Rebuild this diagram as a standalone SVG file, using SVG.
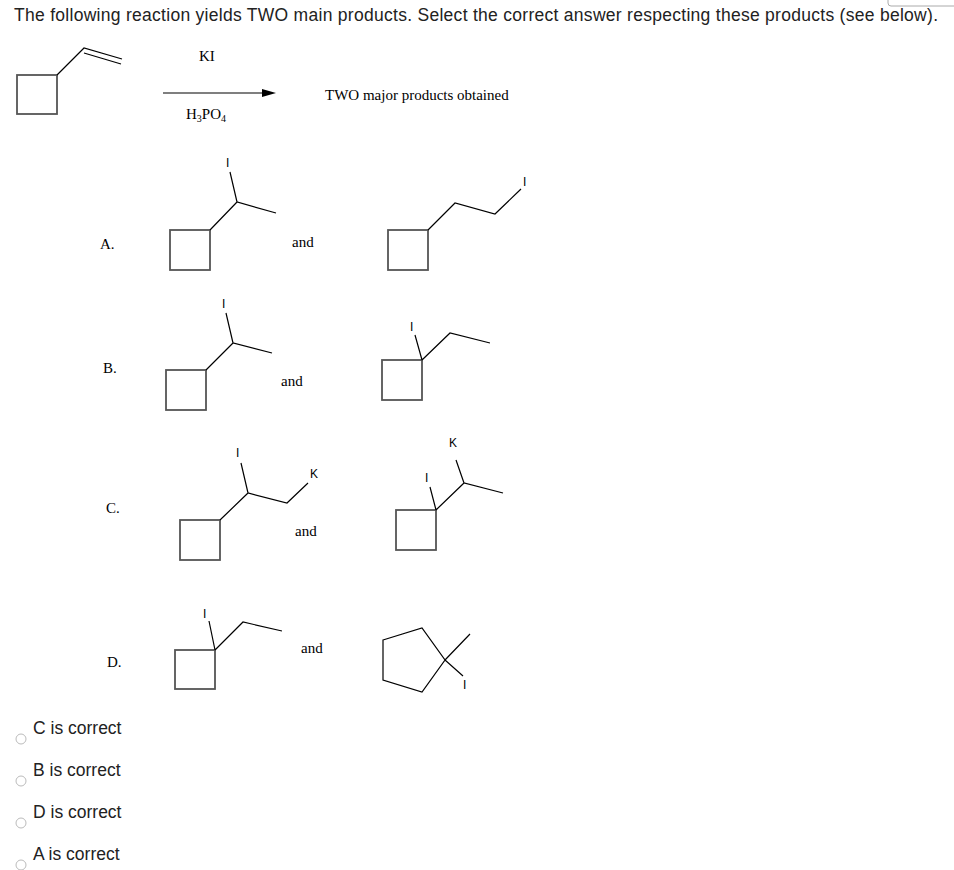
<svg xmlns="http://www.w3.org/2000/svg" width="954" height="870" viewBox="0 0 954 870">
<style>
.b{fill:none;stroke:#000;stroke-width:1.2}
.r{fill:none;stroke:#555;stroke-width:1.8}
.s{font-family:"Liberation Serif",serif;font-size:15px;fill:#000}
.a{font-family:"Liberation Sans",Arial,sans-serif;font-size:12px;fill:#000}
.q{font-family:"Liberation Sans",Arial,sans-serif;font-size:17.5px;fill:#222}
.o{fill:#fff;stroke:#bbb;stroke-width:1}
</style>
<rect width="954" height="870" fill="#fff"/>
<rect x="888" y="-6" width="70" height="12" rx="3" fill="#fff" stroke="#aaa"/>
<text class="q" x="14" y="21" textLength="924">The following reaction yields TWO main products. Select the correct answer respecting these products (see below).</text>
<g id="reactant">
<rect class="r" x="17" y="75" width="40" height="39"/>
<path class="b" d="M57 75 L84 48 L122 59 M84 53 L121 64"/>
</g>
<g id="arrow">
<path class="b" d="M163 93 H262"/><path d="M262 89 L276 93 L262 97 Z"/>
<text class="s" x="199" y="61">KI</text>
<text class="s" x="186" y="119">H<tspan font-size="10" dy="3">3</tspan><tspan dy="-3">PO</tspan><tspan font-size="10" dy="3">4</tspan></text>
<text class="s" x="325" y="100">TWO major products obtained</text>
</g>
<g id="optA">
<text class="s" x="100" y="249">A.</text>
<rect class="r" x="170" y="230" width="40" height="40"/>
<path class="b" d="M210 230 L237 202 L276 213 M237 202 L230 172"/>
<text class="a" x="226" y="167">I</text>
<text class="s" x="292" y="247">and</text>
<rect class="r" x="388" y="230" width="40" height="40"/>
<path class="b" d="M428 230 L455 203 L495 214 L521 189"/>
<text class="a" x="523" y="186">I</text>
</g>
<g id="optB">
<text class="s" x="103" y="373">B.</text>
<rect class="r" x="166" y="370" width="40" height="40"/>
<path class="b" d="M206 370 L233 343 L272 353 M233 343 L226 313"/>
<text class="a" x="222" y="308">I</text>
<text class="s" x="281" y="386">and</text>
<rect class="r" x="382" y="360" width="40" height="40"/>
<path class="b" d="M422 360 L450 333 L490 343 M422 360 L415 335"/>
<text class="a" x="410" y="331">I</text>
</g>
<g id="optC">
<text class="s" x="106" y="513">C.</text>
<rect class="r" x="180" y="520" width="40" height="40"/>
<path class="b" d="M220 520 L248 493 L287 503 L308 483 M248 493 L241 463"/>
<text class="a" x="236" y="457">I</text>
<text class="a" x="310" y="478">K</text>
<text class="s" x="295" y="536">and</text>
<rect class="r" x="396" y="510" width="40" height="40"/>
<path class="b" d="M436 510 L464 483 L503 493 M464 483 L456 460 M436 510 L430 487"/>
<text class="a" x="449" y="447">K</text>
<text class="a" x="425" y="482">I</text>
</g>
<g id="optD">
<text class="s" x="107" y="667">D.</text>
<rect class="r" x="175" y="650" width="40" height="39"/>
<path class="b" d="M215 650 L243 622 L282 631 M215 650 L209 621"/>
<text class="a" x="203" y="618">I</text>
<text class="s" x="301" y="653">and</text>
<path class="b" d="M383 640 L422 628 L445 660 L422 692 L383 680 Z M445 660 L470 634 M445 660 L463 676"/>
<text class="a" x="463" y="689">I</text>
</g>
<g id="answers">
<circle class="o" cx="21" cy="739" r="5"/><text class="q" x="33" y="734">C is correct</text>
<circle class="o" cx="21" cy="781" r="5"/><text class="q" x="33" y="776">B is correct</text>
<circle class="o" cx="21" cy="823" r="5"/><text class="q" x="33" y="818">D is correct</text>
<circle class="o" cx="21" cy="865" r="5"/><text class="q" x="33" y="860">A is correct</text>
</g>
</svg>
